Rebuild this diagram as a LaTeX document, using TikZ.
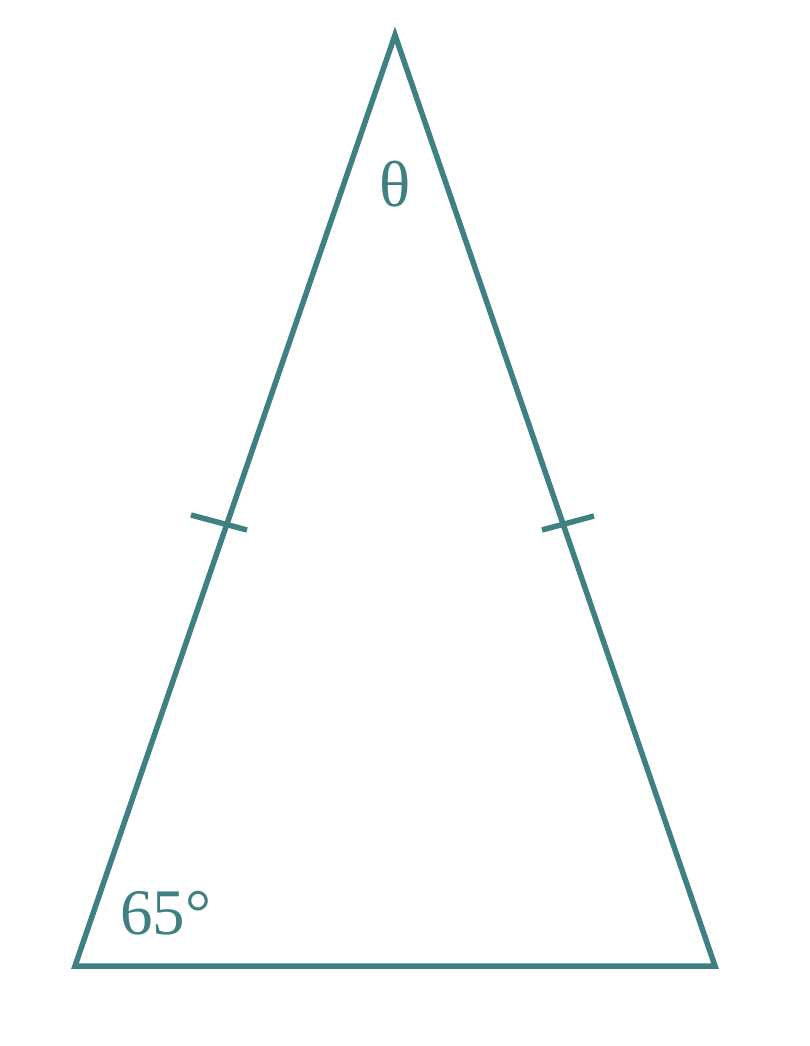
\documentclass[tikz,border=0pt]{standalone}
\usepackage{fontspec}
\setmainfont{Liberation Serif}
\definecolor{teal1}{HTML}{3F8082}
\tikzset{edge/.style={draw=teal1,line width=5.5pt,line join=miter},
lbl/.style={text=teal1,font=\fontsize{65}{72}\selectfont,inner sep=0pt}}
\begin{document}
\begin{tikzpicture}[x=1pt,y=-1pt]
\useasboundingbox (0,0) rectangle (810,1046);
\coordinate (A) at (395,35);
\coordinate (B) at (75,966);
\coordinate (C) at (715,966);
\draw[edge] (A) -- (B) -- (C) -- cycle;
\coordinate (t1a) at (191,515);
\coordinate (t1b) at (247,530);
\coordinate (t2a) at (542,530);
\coordinate (t2b) at (594,516);
\draw[edge] (t1a) -- (t1b);
\draw[edge] (t2a) -- (t2b);
\node[lbl,anchor=base] (th) at (395,206) {θ};
\node[lbl,anchor=base west] (ang) at (120,934) {65°};
\end{tikzpicture}
\end{document}
